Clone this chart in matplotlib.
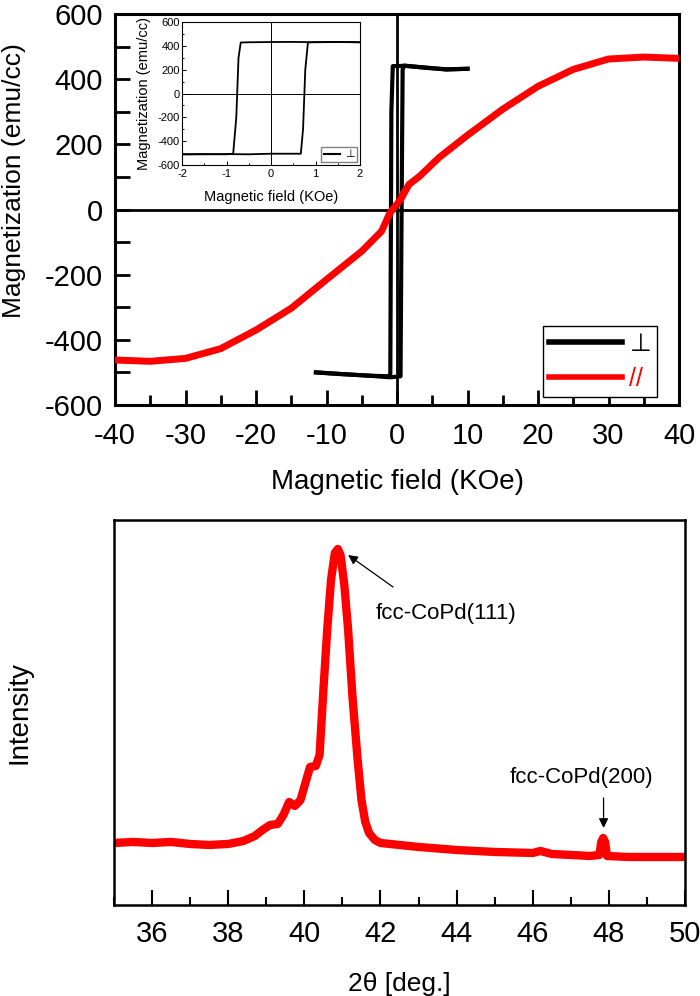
import matplotlib
matplotlib.use("Agg")
import matplotlib.pyplot as plt
from matplotlib.ticker import MultipleLocator, NullLocator
from matplotlib.lines import Line2D

plt.rcParams['font.family'] = ['Liberation Sans', 'DejaVu Sans']
plt.rcParams['axes.unicode_minus'] = False

# perpendicular loop (main panel, KOe / emu/cc)
perp_down_h = [10, 7, 4, 1, -0.6, -0.8, -0.95, -1.2, -4, -8, -11.5]
perp_down_m = [432, 430, 436, 441, 440, 300, -505, -512, -510, -505, -500]
perp_up_h = [-11.5, -8, -4, -1, 0.5, 0.65, 0.8, 1.0, 4, 7, 10]
perp_up_m = [-500, -505, -510, -515, -512, 0, 430, 442, 435, 430, 432]

# parallel curve
par_h = [-40, -35, -30, -25, -20, -15, -10, -5, -2.2, -1.0, 0.5, 1.7, 3.2, 6, 10, 15, 20, 25, 30, 35, 40]
par_m = [-462, -466, -457, -427, -370, -303, -215, -128, -67, -10, 30, 77, 102, 160, 228, 308, 378, 430, 462, 468, 464]
par_ret_h = [-2.2, -1.5, -0.2, 0.8, 1.7]
par_ret_m = [-67, -40, 10, 55, 77]

# inset loop
ins_down_h = [2, 1.5, 1, 0.5, 0, -0.5, -0.68, -0.73, -0.78, -0.85, -1, -1.5, -2]
ins_down_m = [430, 432, 430, 433, 432, 430, 428, 300, -200, -505, -510, -508, -510]
ins_up_h = [-2, -1.5, -1, -0.5, 0, 0.5, 0.67, 0.72, 0.77, 0.83, 1, 1.5, 2]
ins_up_m = [-510, -510, -508, -510, -505, -505, -505, -300, 200, 428, 432, 433, 430]

# XRD pattern
two_theta = [35.0, 35.5, 36.0, 36.5, 37.0, 37.5, 38.0, 38.4, 38.7, 38.9, 39.1, 39.3,
             39.45, 39.6, 39.75, 39.9, 40.05, 40.15, 40.3, 40.4, 40.5, 40.6, 40.7,
             40.8, 40.88, 40.95, 41.05, 41.15, 41.27, 41.4, 41.5, 41.6, 41.7, 41.85,
             42.0, 43.0, 44.0, 45.0, 46.0, 46.2, 46.5, 47.0, 47.5, 47.75, 47.8,
             47.85, 47.9, 47.95, 48.5, 49.0, 50.0]
intensity = [620, 630, 620, 630, 610, 600, 610, 640, 690, 750, 800, 810,
             900, 1030, 990, 1050, 1250, 1380, 1390, 1500, 2150, 2750, 3250,
             3520, 3560, 3500, 3200, 2750, 2050, 1450, 1050, 830, 720, 650,
             620, 580, 550, 530, 520, 540, 510, 500, 490, 500, 630,
             670, 630, 490, 480, 480, 480]

fig = plt.figure(figsize=(7, 9.96), dpi=100)

# ---- top panel ----
ax = fig.add_axes([0.1643, 0.5934, 0.8057, 0.3925])
ax.plot(perp_down_h, perp_down_m, c='black', lw=3, zorder=3)
ax.plot(perp_up_h, perp_up_m, c='black', lw=3, zorder=3)
ax.plot(par_h, par_m, c='red', lw=5, zorder=4)
ax.plot(par_ret_h, par_ret_m, c='red', lw=3, zorder=4)
ax.axhline(0, c='black', lw=2, zorder=2)
ax.axvline(0, c='black', lw=2, zorder=2)
ax.set_xlim(-40, 40)
ax.set_ylim(-600, 600)
ax.xaxis.set_major_locator(MultipleLocator(10))
ax.xaxis.set_minor_locator(MultipleLocator(5))
ax.yaxis.set_major_locator(MultipleLocator(200))
ax.yaxis.set_minor_locator(MultipleLocator(100))
ax.tick_params(which='both', direction='in', width=2, labelsize=21, top=False, right=False)
ax.tick_params(which='major', length=11)
ax.tick_params(axis='x', which='minor', length=7)
ax.tick_params(axis='y', which='minor', length=11)
ax.tick_params(axis='x', pad=12)
ax.tick_params(axis='y', pad=9)
for s in ax.spines.values():
    s.set_linewidth(2.2)
ax.set_xlabel("Magnetic field (KOe)", fontsize=20)
ax.set_ylabel("Magnetization (emu/cc)", fontsize=19)
ax.xaxis.set_label_coords(0.5, -0.163)
ax.yaxis.set_label_coords(-0.158, 0.575)

handles = [Line2D([], [], c='black', lw=4), Line2D([], [], c='red', lw=4)]
ax.legend(handles, ['\u22a5', '//'], loc='lower right', bbox_to_anchor=(0.975, 0.0),
          fontsize=18, handlelength=2.9, labelcolor=['black', 'red'], fancybox=False,
          edgecolor='black', framealpha=1, borderpad=0.25, handletextpad=0.3,
          labelspacing=0.45, borderaxespad=0.3)

# ---- inset ----
ins = fig.add_axes([0.26, 0.8343, 0.2543, 0.1436])
ins.plot(ins_down_h, ins_down_m, c='black', lw=1.3)
ins.plot(ins_up_h, ins_up_m, c='black', lw=1.3)
ins.axhline(0, c='black', lw=0.7)
ins.axvline(0, c='black', lw=0.7)
ins.set_xlim(-2, 2)
ins.set_ylim(-600, 600)
ins.xaxis.set_major_locator(MultipleLocator(1))
ins.xaxis.set_minor_locator(MultipleLocator(0.5))
ins.yaxis.set_major_locator(MultipleLocator(200))
ins.yaxis.set_minor_locator(MultipleLocator(100))
ins.tick_params(which='both', direction='in', labelsize=8, width=0.7, pad=1.5)
ins.tick_params(axis='x', pad=3)
ins.tick_params(which='major', length=3)
ins.tick_params(which='minor', length=1.5)
for s in ins.spines.values():
    s.set_linewidth(0.8)
ins.set_xlabel("Magnetic field (KOe)", fontsize=10.5)
ins.set_ylabel("Magnetization (emu/cc)", fontsize=10.5)
ins.xaxis.set_label_coords(0.5, -0.175)
ins.yaxis.set_label_coords(-0.175, 0.5)
ins.legend([Line2D([], [], c='black', lw=1.5)], ['\u22a5'], loc='lower right',
           fontsize=8, handlelength=1.5, fancybox=False, edgecolor='gray',
           framealpha=1, borderpad=0.2, handletextpad=0.4, borderaxespad=0.3)

# ---- bottom panel ----
bx = fig.add_axes([0.1629, 0.0914, 0.8157, 0.3865])
bx.plot(two_theta, intensity, c='red', lw=6, solid_joinstyle='round')
bx.set_xlim(35, 50)
bx.set_ylim(0, 3850)
bx.xaxis.set_major_locator(MultipleLocator(2))
bx.xaxis.set_minor_locator(MultipleLocator(1))
bx.yaxis.set_major_locator(NullLocator())
bx.tick_params(which='both', direction='in', width=1.5, labelsize=21, pad=11)
bx.tick_params(which='major', length=11)
bx.tick_params(which='minor', length=6)
for s in bx.spines.values():
    s.set_linewidth(1.8)
bx.set_xlabel("2\u03b8 [deg.]", fontsize=19)
bx.set_ylabel("Intensity", fontsize=20)
bx.xaxis.set_label_coords(0.5, -0.175)
bx.yaxis.set_label_coords(-0.142, 0.5)

bx.annotate("", xy=(41.15, 3500), xytext=(42.33, 3180),
            arrowprops=dict(arrowstyle='-|>', color='black', lw=0.9,
                            shrinkA=0, shrinkB=0, mutation_scale=14))
bx.text(41.86, 2920, "fcc-CoPd(111)", fontsize=16, ha='left', va='center')
bx.text(47.27, 1270, "fcc-CoPd(200)", fontsize=16, ha='center', va='center')
bx.annotate("", xy=(47.86, 770), xytext=(47.86, 1070),
            arrowprops=dict(arrowstyle='-|>', color='black', lw=0.9,
                            shrinkA=0, shrinkB=0, mutation_scale=14))

fig.savefig("out.png", dpi=100)
